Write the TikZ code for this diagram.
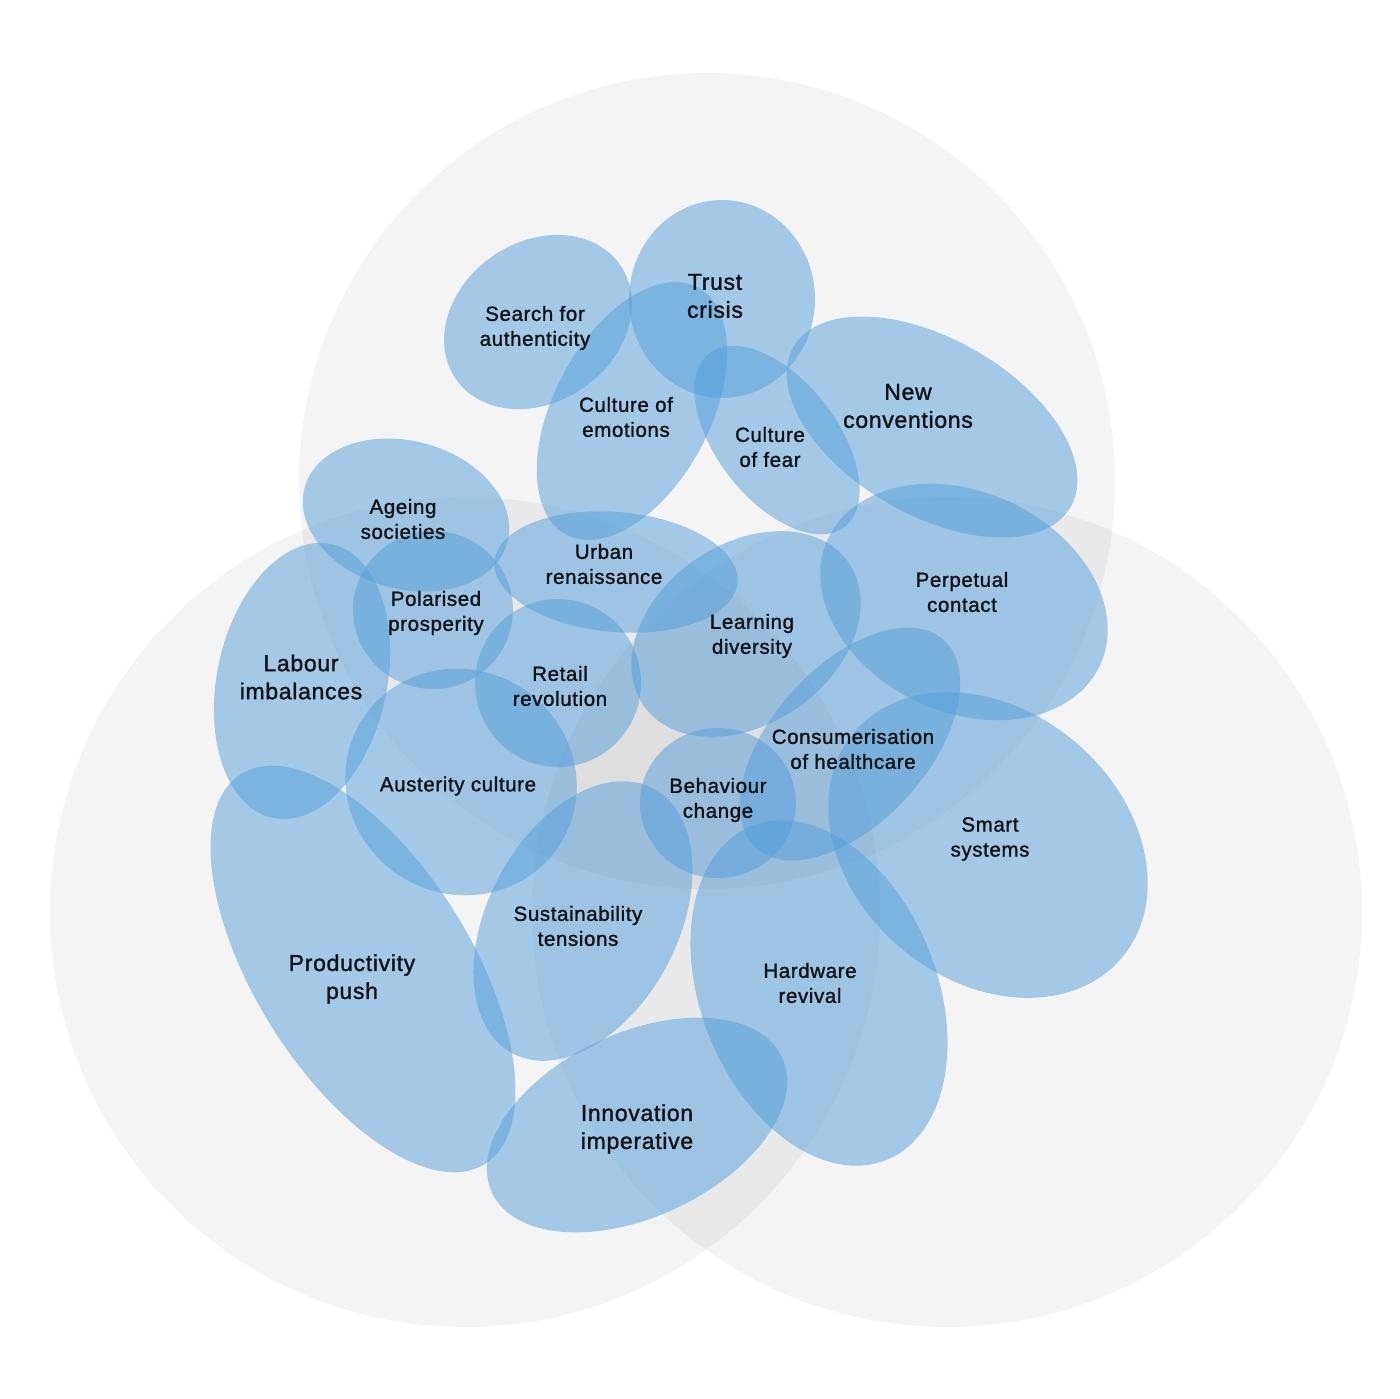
\documentclass[tikz,border=0pt]{standalone}
\usepackage{fontspec}
\setmainfont{Liberation Sans}
\newfontfamily\lblfont[FakeBold=1.4,LetterSpace=3]{Liberation Sans}
\definecolor{blobblue}{RGB}{83,160,220}
\definecolor{txt}{RGB}{20,20,20}
\begin{document}
\begin{tikzpicture}[x=1pt,y=-1pt,
  zone/.style={fill=black,fill opacity=0.045},
  blob/.style={fill=blobblue,fill opacity=0.5},
  lbl/.style={text=txt,align=center,inner sep=0pt,font=\lblfont\fontsize{20.5}{25}\selectfont},
  lblL/.style={text=txt,align=center,inner sep=0pt,font=\lblfont\fontsize{23}{28}\selectfont}]
\fill[white] (0,0) rectangle (1400,1398);
\useasboundingbox (0,0) rectangle (1400,1398);
% three large zones
\fill[zone] (707,481) circle [radius=408];
\fill[zone] (465,912) circle [radius=415];
\fill[zone] (947,912) circle [radius=415];
% blue ellipses
\fill[blob, rotate around={35:(538,322)}] (538,322) ellipse [x radius=100, y radius=80];
\fill[blob] (722,299) ellipse [x radius=93, y radius=99];
\fill[blob, rotate around={62:(632,411)}] (632,411) ellipse [x radius=140, y radius=78];
\fill[blob, rotate around={-52:(777,440)}] (777,440) ellipse [x radius=110, y radius=60];
\fill[blob, rotate around={-30:(932,427)}] (932,427) ellipse [x radius=160, y radius=88];
\fill[blob, rotate around={-15:(406,515)}] (406,515) ellipse [x radius=105, y radius=74];
\fill[blob, rotate around={-5:(616,572)}] (616,572) ellipse [x radius=122, y radius=60];
\fill[blob] (433,610) ellipse [x radius=80, y radius=79];
\fill[blob, rotate around={78:(302,681)}] (302,681) ellipse [x radius=140, y radius=85];
\fill[blob] (558,683) ellipse [x radius=83, y radius=84];
\fill[blob, rotate around={35:(746,634)}] (746,634) ellipse [x radius=125, y radius=90];
\fill[blob, rotate around={-25:(964,602)}] (964,602) ellipse [x radius=150, y radius=110];
\fill[blob, rotate around={-30:(461,782)}] (461,782) ellipse [x radius=117, y radius=112];
\fill[blob, rotate around={48:(850,744)}] (850,744) ellipse [x radius=140, y radius=78];
\fill[blob] (718,803) ellipse [x radius=78, y radius=75];
\fill[blob, rotate around={-40:(988,845)}] (988,845) ellipse [x radius=175, y radius=135];
\fill[blob, rotate around={-58:(363,969)}] (363,969) ellipse [x radius=230, y radius=108];
\fill[blob, rotate around={62:(583,921)}] (583,921) ellipse [x radius=150, y radius=95];
\fill[blob, rotate around={-68:(819,993)}] (819,993) ellipse [x radius=180, y radius=118];
\fill[blob, rotate around={25:(637,1125)}] (637,1125) ellipse [x radius=160, y radius=92];
% labels
\node[lbl]  (search)  at (535,328)  {Search for\\authenticity};
\node[lblL] (trust)   at (715,296)  {Trust\\crisis};
\node[lbl]  (emot)    at (626,417)  {Culture of\\emotions};
\node[lbl]  (fear)    at (770,447)  {Culture\\of fear};
\node[lblL] (newconv) at (908,406)  {New\\conventions};
\node[lbl]  (ageing)  at (403,519)  {Ageing\\societies};
\node[lbl]  (urban)   at (604,564)  {Urban\\renaissance};
\node[lbl]  (polar)   at (436,613)  {Polarised\\prosperity};
\node[lblL] (labour)  at (301,677)  {Labour\\imbalances};
\node[lbl]  (retail)  at (560,686)  {Retail\\revolution};
\node[lbl]  (learn)   at (752,636)  {Learning\\diversity};
\node[lbl]  (perp)    at (962,592)  {Perpetual\\contact};
\node[lbl]  (auster)  at (458,786)  {Austerity culture};
\node[lbl]  (consum)  at (853,749)  {Consumerisation\\of healthcare};
\node[lbl]  (behav)   at (718,800)  {Behaviour\\change};
\node[lbl]  (smart)   at (990,839)  {Smart\\systems};
\node[lbl]  (sustain) at (578,926)  {Sustainability\\tensions};
\node[lblL] (product) at (352,979)  {Productivity\\push};
\node[lbl]  (hardw)   at (810,983)  {Hardware\\revival};
\node[lblL] (innov)   at (637,1129) {Innovation\\imperative};
\end{tikzpicture}
\end{document}
